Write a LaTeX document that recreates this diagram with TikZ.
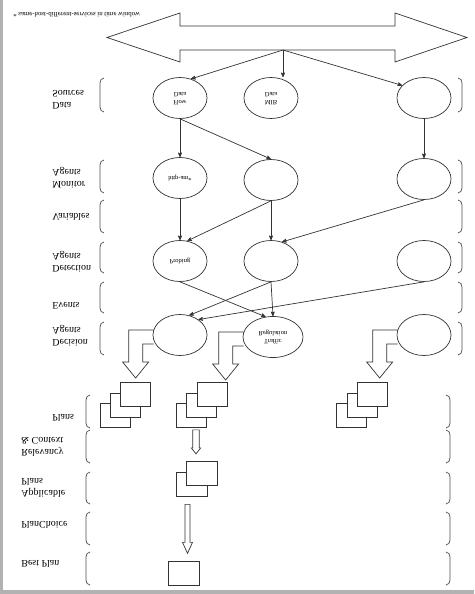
\documentclass[tikz,border=0pt]{standalone}
\usepackage{fontspec}
\setmainfont{Liberation Serif}
\usepackage{graphicx}
\usetikzlibrary{shapes.geometric, arrows, calc}
\tikzset{
>=stealth', % arrow heads of the flows
flow/.style={->, draw=black!80}, % directed connector between two agents
agent/.style={ellipse, draw=black!80, minimum width=54pt, minimum height=41pt, inner sep=0pt, font=\fontsize{6.5}{7.5}\selectfont}, % every agent
rowlabel/.style={yscale=-1, anchor=west, align=left, inner sep=0pt, font=\fontsize{10}{12}\selectfont}, % names of the rows
plan/.style={rectangle, draw=black!80, fill=white, minimum width=30pt, minimum height=24pt, inner sep=0pt}, % one plan
hollow/.style={draw=black!80}, % outline arrows
bracket/.style={draw=black!70}, % row brackets
}
\newcommand{\flipped}[1]{\scalebox{1}[-1]{\begin{tabular}{@{}c@{}}#1\end{tabular}}}
\newcommand{\rowbraceL}[3]{\draw[bracket] (#1+4,#2) to[out=180,in=90] (#1,#2+5) -- (#1,#3-5) to[out=-90,in=180] (#1+4,#3);}
\newcommand{\rowbraceR}[3]{\draw[bracket] (#1-4,#2) to[out=0,in=90] (#1,#2+5) -- (#1,#3-5) to[out=-90,in=0] (#1-4,#3);}
\newcommand{\bentarrow}[1]{\draw[hollow] (#1) ++(1,-5) -- ++(-25,0) -- ++(0,32) -- ++(-6,0) -- ++(13,16) -- ++(13,-16) -- ++(-6,0) -- ++(0,-18) -- ++(11,0);}
\newcommand{\hollowdown}[5]{\draw[hollow] (#1) ++(-#3,0) -- ++(0,#2) -- ++(#3-#4,0) -- ++(#4,#5) -- ++(#4,-#5) -- ++(#3-#4,0) -- ++(0,-#2) -- cycle;}

\begin{document}
\begin{tikzpicture}[x=1pt, y=-1pt, line width=0.7pt]
\useasboundingbox (0,0) rectangle (474,594);
\fill[black!30] (0,0) rectangle (3,594);
\fill[black!30] (0,590) rectangle (474,594);

\node[rowlabel, font=\fontsize{6.8}{8}\selectfont] (note) at (13,15) {* same-host-different-services in time window};

% the bus on top
\draw[hollow] (107,37.5) -- (180,13) -- (180,26) -- (395,26) -- (395,13) -- (467,37.5) -- (395,62) -- (395,50) -- (180,50) -- (180,62) -- cycle;
\coordinate (bus) at (283,50);

% rows
\node[rowlabel] (lsrc) at (52,100) {Data\\Sources};
\node[rowlabel] (lmon) at (52,178) {Monitor\\Agents};
\node[rowlabel] (lvar) at (52,217) {Variables};
\node[rowlabel] (ldet) at (52,262) {Detection\\Agents};
\node[rowlabel] (levt) at (52,306) {Events};
\node[rowlabel] (ldec) at (52,336) {Decision\\Agents};
\node[rowlabel] (lpla) at (52,418) {Plans};
\node[rowlabel] (lrel) at (21,447) {Relevancy\\\& Context};
\node[rowlabel] (lapp) at (21,488) {Applicable\\Plans};
\node[rowlabel] (lcho) at (21,525) {PlanChoice};
\node[rowlabel] (lbst) at (21,564) {Best Plan};

\rowbraceL{100}{78}{112} \rowbraceR{462}{78}{112}
\rowbraceL{100}{160}{193} \rowbraceR{462}{160}{193}
\rowbraceL{100}{200}{233} \rowbraceR{462}{200}{233}
\rowbraceL{100}{242}{273} \rowbraceR{462}{242}{273}
\rowbraceL{100}{282}{313} \rowbraceR{462}{282}{313}
\rowbraceL{100}{322}{355} \rowbraceR{462}{322}{355}
\rowbraceL{86}{395}{428} \rowbraceR{450}{395}{428}
\rowbraceL{86}{430}{463} \rowbraceR{450}{430}{463}
\rowbraceL{86}{472}{504} \rowbraceR{450}{472}{504}
\rowbraceL{86}{512}{545} \rowbraceR{450}{512}{545}
\rowbraceL{86}{552}{585} \rowbraceR{450}{552}{585}

% agents
\node[agent] (src1) at (180,98) {\flipped{Flow\\Data}};
\node[agent] (src2) at (271,98) {\flipped{MIB\\Data}};
\node[agent] (src3) at (424,98) {};
\node[agent] (mon1) at (180,178) {\flipped{http-am*}};
\node[agent] (mon2) at (271,180) {};
\node[agent] (mon3) at (424,179) {};
\node[agent] (det1) at (180,261) {\flipped{Probing}};
\node[agent] (det2) at (271,261) {};
\node[agent] (det3) at (424,261) {};
\node[agent] (dec1) at (180,335) {};
\node[agent, minimum width=60pt] (dec2) at (273,337) {\flipped{Traffic\\Regulation}};
\node[agent] (dec3) at (424,335) {};

\draw[flow] (bus) -- (src1.60);
\draw[flow] (bus) -- (bus |- src2.north);
\draw[flow] (bus) -- (src3.150);
\draw[flow] (src1.south) -- (mon1.north);
\draw[flow] (src1.south) -- (mon2.north);
\draw[flow] (src3.south) -- (mon3.north);
\draw[flow] (mon1.south) -- (det1.north);
\draw[flow] (mon2.south) -- (det2.north);
\draw[flow] (mon2.south) -- (det1.70);
\draw[flow] (mon3.south) -- (det2.60);
\draw[flow] (det1.south) -- (dec2.110);
\draw[flow] (det2.south) -- (dec2.north);
\draw[flow] (det2.south) -- (dec1.65);
\draw[flow] (det3.south) -- (dec1.40);

% decisions to plans
\bentarrow{dec1.west}
\bentarrow{dec2.west}
\bentarrow{dec3.west}

\node[plan] (pa1) at (115,415.5) {};
\node[plan] (pa2) at (125,405) {};
\node[plan] (pa3) at (135,394) {};
\node[plan] (pb1) at (191,415.5) {};
\node[plan] (pb2) at (201,405) {};
\node[plan] (pb3) at (212,394) {};
\node[plan] (pc1) at (351,415.5) {};
\node[plan] (pc2) at (362,405) {};
\node[plan] (pc3) at (372,394) {};

\hollowdown{$(pb1.south)+(5,2)$}{18}{3.3}{4.7}{6}

\node[plan, minimum width=31pt] (ap1) at (191.5,484) {};
\node[plan, minimum width=31pt] (ap2) at (201.5,473) {};

\hollowdown{$(ap1.south)+(-4,8)$}{38}{2.5}{5}{11}

\node[plan, minimum width=31pt] (best) at (183.5,573) {};
\end{tikzpicture}
\end{document}
